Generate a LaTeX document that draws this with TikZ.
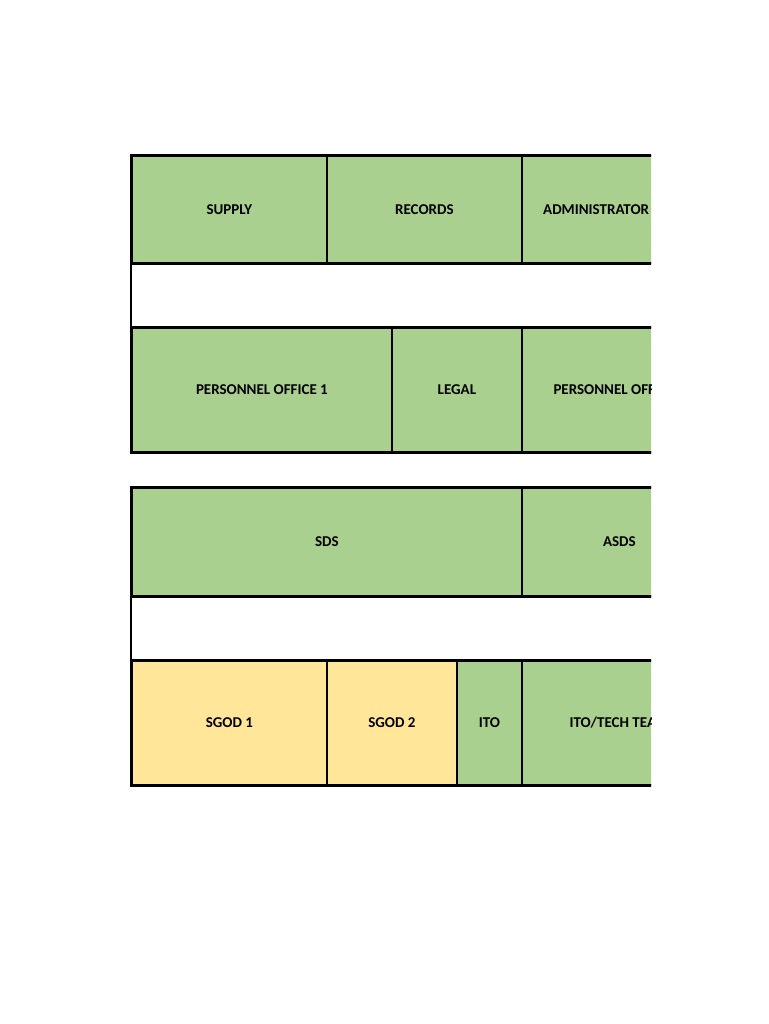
\documentclass[tikz,border=0pt]{standalone}
\usepackage{fontspec}
\setmainfont{Carlito}
\definecolor{roomgreen}{HTML}{A9D08E}
\definecolor{roomyellow}{HTML}{FFE699}
\begin{document}
\begin{tikzpicture}[x=1pt,y=-1pt]
	\tikzstyle{room}=[draw=black, line width=1.8pt, fill=roomgreen, inner sep=0pt, anchor=north west, font=\fontsize{15}{17}\selectfont\bfseries]
	\tikzstyle{wall}=[black, line width=2.8pt, line join=miter]
	\useasboundingbox (0,0) rectangle (768,1024);
	\begin{scope}
		\clip (0,0) rectangle (651,1024);
		% upper block
		\node [room, minimum width=195pt, minimum height=107pt] (supply) at (131,155) {SUPPLY};
		\node [room, minimum width=195pt, minimum height=107pt] (records) at (326,155) {RECORDS};
		\node [room, minimum width=195pt, minimum height=107pt] (admin) at (521,155) {ADMINISTRATOR OFFICE};
		\node [room, minimum width=260pt, minimum height=124pt] (pers1) at (131,327) {PERSONNEL OFFICE 1};
		\node [room, minimum width=130pt, minimum height=124pt] (legal) at (391,327) {LEGAL};
		\node [room, minimum width=195pt, minimum height=124pt] (pers2) at (521,327) {PERSONNEL OFFICE 2};
		\draw [wall] (admin.north east) -- (supply.north west) -- (pers1.south west) -- (pers2.south east);
		\draw [wall] (supply.south west) -- (admin.south east);
		\draw [wall] (pers1.north west) -- (pers2.north east);
		% lower block
		\node [room, minimum width=390pt, minimum height=108pt] (sds) at (131,487) {SDS};
		\node [room, minimum width=195pt, minimum height=108pt] (asds) at (521,487) {ASDS};
		\node [room, fill=roomyellow, minimum width=195pt, minimum height=124pt] (sgod1) at (131,660) {SGOD 1};
		\node [room, fill=roomyellow, minimum width=130pt, minimum height=124pt] (sgod2) at (326,660) {SGOD 2};
		\node [room, minimum width=65pt, minimum height=124pt] (ito) at (456,660) {ITO};
		\node [room, minimum width=195pt, minimum height=124pt] (tech) at (521,660) {ITO/TECH TEAM};
		\draw [wall] (asds.north east) -- (sds.north west) -- (sgod1.south west) -- (tech.south east);
		\draw [wall] (sds.south west) -- (asds.south east);
		\draw [wall] (sgod1.north west) -- (tech.north east);
	\end{scope}
\end{tikzpicture}
\end{document}
